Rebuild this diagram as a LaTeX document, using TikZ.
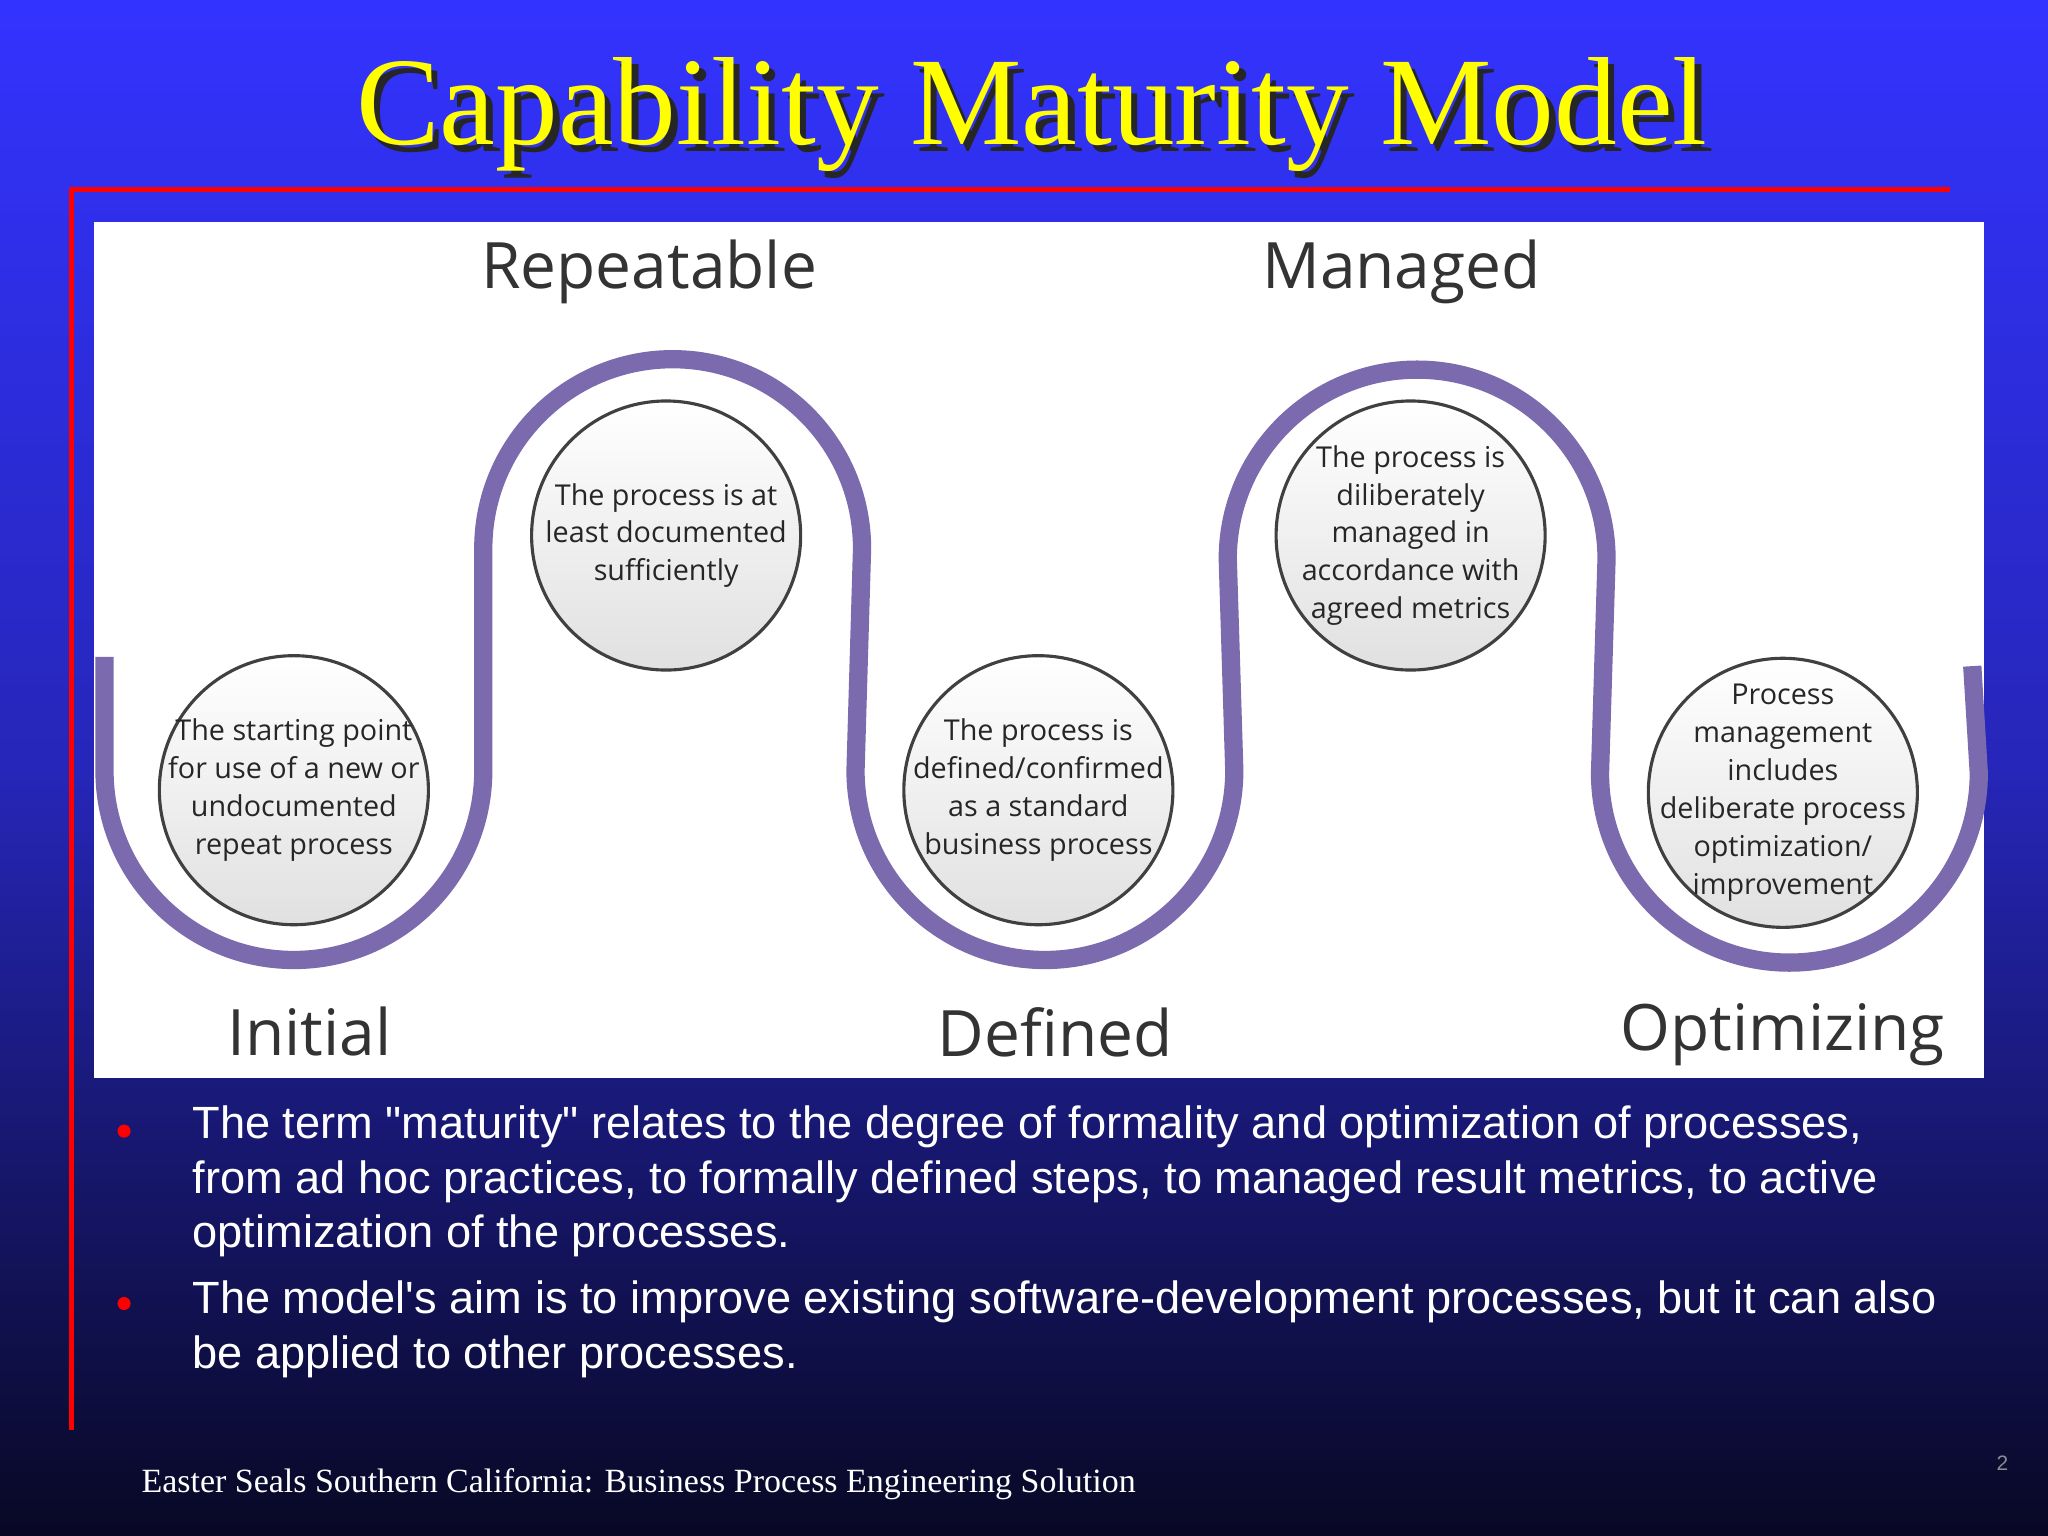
\documentclass[tikz,border=0pt]{standalone}
\usepackage{fontspec}
\setmainfont{Liberation Serif}
\newfontfamily\segoe{Open Sans}
\newfontfamily\arialf{Liberation Sans}
\definecolor{bgtop}{RGB}{51,51,255}
\definecolor{bgmid}{RGB}{38,38,185}
\definecolor{bgbot}{RGB}{8,8,36}
\definecolor{wave}{RGB}{124,106,174}
\definecolor{ttl}{RGB}{255,255,0}
\begin{document}
\begin{tikzpicture}[x=0.5pt,y=0.5pt,
  bubble/.style={circle,draw=black!75,line width=1.2pt,minimum size=103pt,inner sep=-8pt,
    top color=white,bottom color=black!12,align=center,font=\segoe\fontsize{11}{14.5}\selectfont,text=black!85},
  stage/.style={font=\segoe\fontsize{24.5}{27}\selectfont,text=black!80},
  bullettext/.style={font=\arialf\fontsize{17.3}{21}\selectfont,text=white,anchor=north west,align=left,inner sep=0pt},
  dot/.style={circle,fill=red,inner sep=0pt,minimum size=5pt}]
\useasboundingbox (0,0) rectangle (1568,-1176);
\shade[top color=bgtop,bottom color=bgbot,middle color=bgmid] (0,0) rectangle (1568,-1176);
% title with shadow
\node[font=\fontsize{48}{50}\selectfont,text=black!85] (tshadow) at (795,-93) {Capability Maturity Model};
\node[font=\fontsize{48}{50}\selectfont,text=ttl] (title) at (790,-88) {Capability Maturity Model};
% red lines
\coordinate (rl) at (55,-145); \coordinate (rr) at (1493,-145); \coordinate (rb) at (55,-1095);
\draw[red,line width=2pt] (rr) -- (rl) -- (rb);
% panel
\fill[white] (72,-170) rectangle (1519,-825);
% wave
\draw[wave,line width=7pt] (80,-503) -- (80,-590) arc(180:360:145) -- (370,-420) arc(180:0:145)
  -- (655,-590) arc(180:360:145) -- (940,-428) arc(180:0:145) -- (1225,-592) arc(180:360:145) -- (1510,-510);
% bubbles
\node[bubble] (b1) at (225,-605) {The starting point\\for use of a new or\\undocumented\\repeat process};
\node[bubble] (b2) at (510,-410) {The process is at\\least documented\\sufficiently};
\node[bubble] (b3) at (795,-605) {The process is\\defined/confirmed\\as a standard\\business process};
\node[bubble] (b4) at (1080,-410) {The process is\\diliberately\\managed in\\accordance with\\agreed metrics};
\node[bubble] (b5) at (1365,-607) {Process\\management\\includes\\deliberate process\\optimization/\\improvement};
% stage labels
\node[stage] (rep) at (497,-208) {Repeatable};
\node[stage] (man) at (1073,-208) {Managed};
\node[stage] (ini) at (237,-790) {Initial};
\node[stage] (def) at (808,-790) {Defined};
\node[stage] (opt) at (1365,-792) {Optimizing};
% bullets
\node[dot] (d1) at (95,-866) {};
\node[bullettext] (t1) at (147,-846) {The term "maturity" relates to the degree of formality and optimization of processes,\\from ad hoc practices, to formally defined steps, to managed result metrics, to active\\optimization of the processes.};
\node[dot] (d2) at (95,-998) {};
\node[bullettext] (t2) at (147,-980) {The model's aim is to improve existing software-development processes, but it can also\\be applied to other processes.};
% footer
\node[font=\fontsize{13}{15}\selectfont,text=white,anchor=west,inner sep=0pt] (foot) at (108,-1136) {Easter Seals Southern California: Business Process Engineering Solution};
\node[font=\arialf\fontsize{8}{9}\selectfont,text=black!45] (pg) at (1533,-1120) {2};
\end{tikzpicture}
\end{document}
